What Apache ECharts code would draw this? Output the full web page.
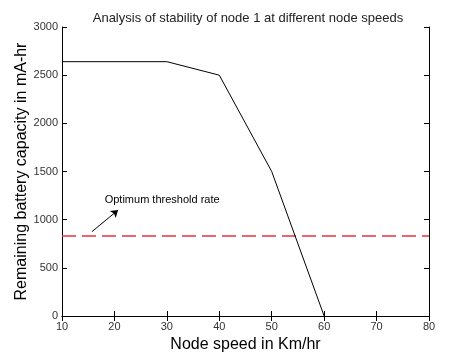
<!DOCTYPE html>
<html><head><meta charset="utf-8">
<script src="https://cdn.jsdelivr.net/npm/echarts@6/dist/echarts.min.js"></script>
<style>html,body{margin:0;padding:0;background:#fff}#c{width:474px;height:355px}</style>
</head><body><div id="c"></div>
<script>
var speeds = [10, 30, 40, 50, 60];
var capacity = [2640, 2640, 2500, 1500, 0];
var thresholdX = [10, 80];
var thresholdY = [830, 830];
var arrowFrom = [15.7, 875];
var arrowTo = [20.7, 1100];
var annotation = 'Optimum threshold rate';
var annotationAt = [29.1, 1204];
var xTicks = [10, 20, 30, 40, 50, 60, 70, 80];
var yTicks = [0, 500, 1000, 1500, 2000, 2500, 3000];

var chart = echarts.init(document.getElementById('c'), null, {renderer: 'canvas'});
var font = 'Liberation Sans, Arial, sans-serif';
var axisCommon = {
  axisLine: {show: true, lineStyle: {color: '#000', width: 1}},
  axisTick: {show: true, inside: true, length: 5, lineStyle: {color: '#000'}},
  splitLine: {show: false}
};
function plain(v){ return String(v); }
chart.setOption({
  animation: false,
  backgroundColor: '#fff',
  title: {text: 'Analysis of stability of node 1 at different node speeds', left: 243, textAlign: 'center', top: 7,
    textStyle: {fontFamily: font, fontSize: 13, fontWeight: 'normal', color: '#222'}},
  grid: {left: 62, right: 45, top: 27, bottom: 39, containLabel: false, outerBoundsMode: 'none'},
  xAxis: [
    Object.assign({type: 'value', min: xTicks[0], max: xTicks[xTicks.length-1], interval: 10, position: 'bottom',
      name: 'Node speed in Km/hr', nameLocation: 'middle', nameGap: 19,
      nameTextStyle: {fontFamily: font, fontSize: 16, color: '#000'},
      axisLabel: {fontFamily: font, fontSize: 11, color: '#333', margin: 5, formatter: plain}}, axisCommon),
    Object.assign({type: 'value', min: xTicks[0], max: xTicks[xTicks.length-1], interval: 10, position: 'top', axisLabel: {show: false}}, axisCommon)
  ],
  yAxis: [
    Object.assign({type: 'value', min: yTicks[0], max: yTicks[yTicks.length-1], interval: 500, position: 'left',
      name: 'Remaining battery capacity in mA-hr', nameLocation: 'middle', nameGap: 32, nameMoveOverlap: false,
      nameTextStyle: {fontFamily: font, fontSize: 16, color: '#000'},
      axisLabel: {fontFamily: font, fontSize: 11, color: '#333', margin: 4, formatter: plain}}, axisCommon),
    Object.assign({type: 'value', min: yTicks[0], max: yTicks[yTicks.length-1], interval: 500, position: 'right', axisLabel: {show: false}}, axisCommon)
  ],
  series: [
    {type: 'line', data: speeds.map(function(s, i){return [s, capacity[i]];}),
      symbol: 'none', lineStyle: {color: '#000', width: 1}, z: 3},
    {type: 'line', data: thresholdX.map(function(s, i){return [s, thresholdY[i]];}),
      symbol: 'none', lineStyle: {color: '#e8323e', width: 1.5, type: [14, 6]}, z: 2,
      markLine: {silent: true, symbol: ['none', 'arrow'], symbolSize: 7,
        lineStyle: {color: '#000', width: 1, type: 'solid'}, label: {show: false},
        data: [[{coord: arrowFrom}, {coord: arrowTo}]]},
      markPoint: {silent: true, symbol: 'circle', symbolSize: 0,
        label: {show: true, position: 'inside', formatter: annotation, fontFamily: font, fontSize: 11, color: '#000'},
        data: [{coord: annotationAt}]}
    }
  ]
});
</script></body></html>
